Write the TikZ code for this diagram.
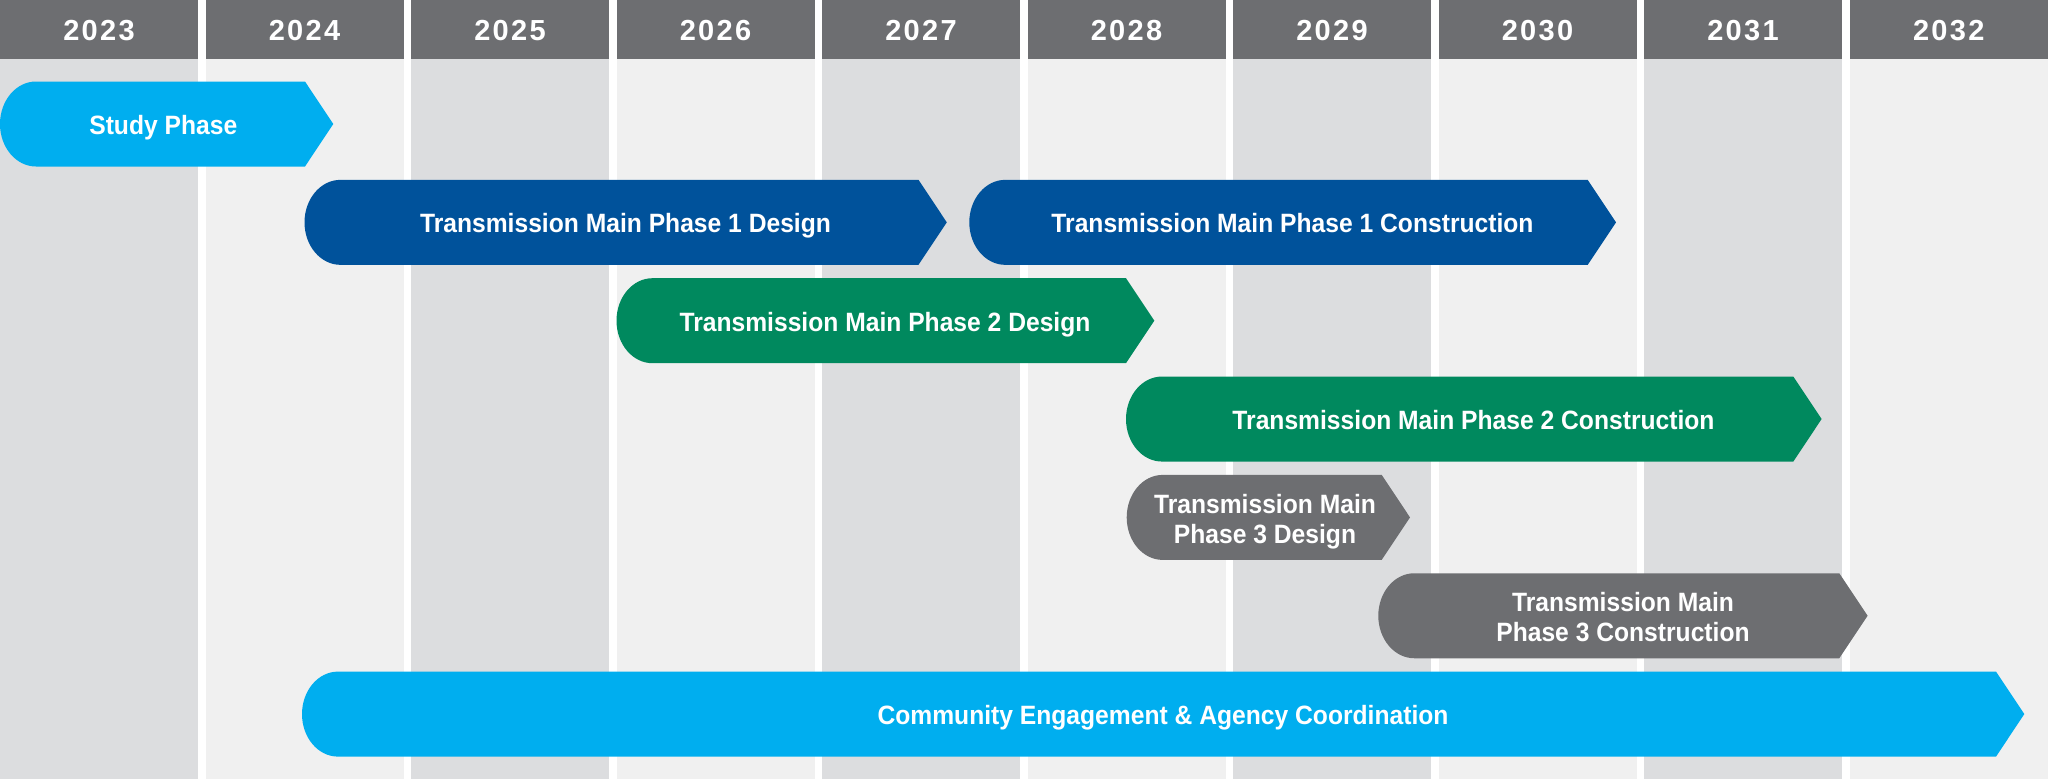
\documentclass[tikz,border=0pt]{standalone}
\usepackage{fontspec}
\setmainfont{Liberation Sans}
\newfontfamily\barfont[FakeStretch=0.93]{Liberation Sans}
\newfontfamily\yearfont[LetterSpace=8]{Liberation Sans}
\definecolor{hdr}{HTML}{6D6E71}
\definecolor{colD}{HTML}{DCDDDF}
\definecolor{colL}{HTML}{F0F0F0}
\definecolor{lblue}{HTML}{00AEEF}
\definecolor{dblue}{HTML}{00529B}
\definecolor{green}{HTML}{00895E}
\definecolor{gbar}{HTML}{6D6E71}
\newcommand\tlshape[4]{%
  \fill[#1] ({#3},{#4-42.5}) -- ({#3+28.3},{#4}) -- ({#3},{#4+42.5}) -- ({#2+36},{#4+42.5})
    .. controls ({#2+16.1},{#4+42.5}) and ({#2},{#4+23.5}) .. ({#2},{#4})
    .. controls ({#2},{#4-23.5}) and ({#2+16.1},{#4-42.5}) .. ({#2+36},{#4-42.5}) -- cycle;}
\tikzset{
  lbl/.style={anchor=base, inner sep=0pt, text=white, font=\barfont\bfseries\fontsize{26.5}{30}\selectfont},
  yearlbl/.style={anchor=center, inner sep=0pt, text=white, font=\yearfont\bfseries\fontsize{29}{34}\selectfont}
}
\begin{document}
\begin{tikzpicture}[x=1pt,y=-1pt]
\useasboundingbox (0,0) rectangle (2048,779);
\fill[white] (0,0) rectangle (2048,779);
\foreach \i/\yr in {0/2023,1/2024,2/2025,3/2026,4/2027,5/2028,6/2029,7/2030,8/2031,9/2032}{
  \pgfmathsetmacro\xa{205.5*\i}
  \pgfmathsetmacro\xb{(\i==9)?2048:(205.5*\i+198)}
  \pgfmathsetmacro\xc{(\xa+\xb)/2}
  \pgfmathtruncatemacro\ev{mod(\i,2)}
  \ifnum\ev=0 \fill[colD] (\xa,59.3) rectangle (\xb,779); \else \fill[colL] (\xa,59.3) rectangle (\xb,779); \fi
  \fill[hdr] (\xa,0) rectangle (\xb,59.3);
  \node[yearlbl] (y\yr) at (\xc,30.3) {\yr};
}
% bars
\tlshape{lblue}{0}{305}{124}
\node[lbl] (study) at (163.3,134.5) {Study Phase};
\tlshape{dblue}{304.5}{918.5}{222.35}
\node[lbl] (p1d) at (625.5,232.85) {Transmission Main Phase 1 Design};
\tlshape{dblue}{969.3}{1587.7}{222.35}
\node[lbl] (p1c) at (1292.5,232.85) {Transmission Main Phase 1 Construction};
\tlshape{green}{616.5}{1126}{320.7}
\node[lbl] (p2d) at (885,331.2) {Transmission Main Phase 2 Design};
\tlshape{green}{1126}{1793.3}{419.05}
\node[lbl] (p2c) at (1473.5,429.55) {Transmission Main Phase 2 Construction};
\tlshape{gbar}{1126.7}{1381.7}{517.4}
\node[lbl] (p3d) at (1265,513.4) {\begin{tabular}[t]{@{}c@{}}Transmission Main\\Phase 3 Design\end{tabular}};
\tlshape{gbar}{1378.3}{1839.3}{615.75}
\node[lbl] (p3c) at (1623,611.75) {\begin{tabular}[t]{@{}c@{}}Transmission Main\\Phase 3 Construction\end{tabular}};
\tlshape{lblue}{302}{1996}{714.1}
\node[lbl] (comm) at (1163,724.6) {Community Engagement \& Agency Coordination};
\end{tikzpicture}
\end{document}
